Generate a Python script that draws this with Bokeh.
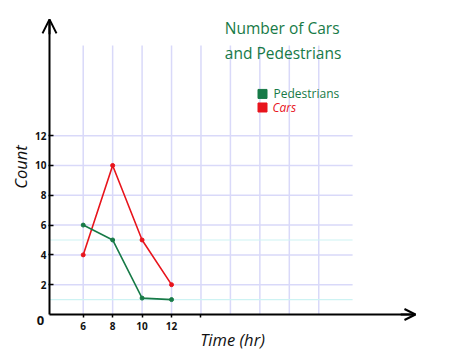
from bokeh.plotting import figure
from bokeh.models import Range1d, FixedTicker, Arrow, OpenHead, Label
from bokeh.embed import file_html
from bokeh.resources import INLINE

# ---- data ----
time_hr = [6, 8, 10, 12]
pedestrians = [6, 5, 1.1, 1]
cars = [4, 10, 5, 2]
y_ticks = [2, 4, 6, 8, 10, 12]
x_ticks = [6, 8, 10, 12, 14]
x_tick_overrides = {14: ""}
grid_x = [6, 8, 10, 12, 14, 16, 18, 20, 22]
grid_y = [2, 4, 6, 8, 10, 12]
guide_y = [1, 5]
series_names = ["Pedestrians", "Cars"]

# ---- style / layout constants ----
GREEN = "#177a47"
RED = "#e8141c"
GRID = "#d9d9f9"
GUIDE = "#cdf3f3"
FONT = "Open Sans"
W, H = 474, 355
X0, Y0 = 3.71, 0.0
X_END, Y_END = 28.57, 19.8
GRID_TOP, GRID_RIGHT = 18.05, 24.3

p = figure(width=W, height=H, output_backend="svg", toolbar_location=None,
           x_range=Range1d(0.382, 32.58), y_range=Range1d(-2.752, 21.07),
           min_border=0, outline_line_color=None)
p.grid.visible = False

# grid
p.segment(x0=grid_x, y0=[Y0] * len(grid_x), x1=grid_x, y1=[GRID_TOP] * len(grid_x),
          line_color=GRID, line_width=1.5)
p.segment(x0=[X0] * len(grid_y), y0=grid_y, x1=[GRID_RIGHT] * len(grid_y), y1=grid_y,
          line_color=GRID, line_width=1.5)
p.segment(x0=[X0] * len(guide_y), y0=guide_y, x1=[GRID_RIGHT] * len(guide_y), y1=guide_y,
          line_color=GUIDE, line_width=1.2)

# axes
xa = p.xaxis[0]
ya = p.yaxis[0]
xa.fixed_location = Y0
xa.bounds = (X0, X_END)
ya.fixed_location = X0
ya.bounds = (Y0, Y_END)
xa.ticker = FixedTicker(ticks=x_ticks)
ya.ticker = FixedTicker(ticks=y_ticks)
xa.major_label_overrides = x_tick_overrides
for ax in (xa, ya):
    ax.axis_line_width = 2
    ax.axis_line_color = "black"
    ax.major_tick_line_width = 1.5
    ax.minor_tick_line_color = None
    ax.major_label_text_font = FONT
    ax.major_label_text_font_style = "bold"
    ax.major_label_text_font_size = "10px"
    ax.major_label_text_color = "#111111"
    ax.axis_label_text_font = FONT
    ax.axis_label_text_font_style = "italic"
    ax.axis_label_text_font_size = "16.5px"
    ax.axis_label_text_color = "#111111"
xa.major_tick_in = 0
xa.major_tick_out = 3
xa.major_label_standoff = 5
xa.axis_label = "Time (hr)"
xa.axis_label_standoff = -6
ya.major_tick_in = 4
ya.major_tick_out = 1
ya.major_label_standoff = 2
ya.axis_label = "Count"
ya.axis_label_standoff = 0

p.add_layout(Arrow(end=OpenHead(size=14, line_width=2), x_start=X0, y_start=Y_END - 1,
                   x_end=X0, y_end=Y_END, line_width=2))
p.add_layout(Arrow(end=OpenHead(size=11, line_width=2), x_start=X_END - 1, y_start=Y0,
                   x_end=X_END, y_end=Y0, line_width=2))
p.add_layout(Label(x=X0, y=Y0, text="0", x_offset=-9, y_offset=-6, text_align="center",
                   text_baseline="middle", text_font=FONT, text_font_style="bold",
                   text_font_size="13px", text_color="#111111"))

# series
p.line(time_hr, cars, line_color=RED, line_width=1.6)
p.scatter(time_hr, cars, size=4, color=RED)
p.line(time_hr, pedestrians, line_color=GREEN, line_width=1.6)
p.scatter(time_hr, pedestrians, size=4, color=GREEN)

# title
for txt, ty in (("Number of Cars", 19.25), ("and Pedestrians", 17.58)):
    p.add_layout(Label(x=15.62, y=ty, text=txt, text_align="left", text_baseline="middle",
                       text_font=FONT, text_font_size="15.5px", text_color=GREEN))

# legend
p.scatter(x=[18.18, 18.18], y=[14.8, 13.89], marker="square", size=9,
          color=[GREEN, RED])
p.add_layout(Label(x=18.93, y=14.8, text=series_names[0], text_baseline="middle",
                   text_font=FONT, text_font_size="12px", text_color=GREEN))
p.add_layout(Label(x=18.86, y=13.89, text=series_names[1], text_baseline="middle",
                   text_font=FONT, text_font_size="12px", text_font_style="italic",
                   text_color=RED))

open("out.html", "w").write(file_html(p, INLINE))
